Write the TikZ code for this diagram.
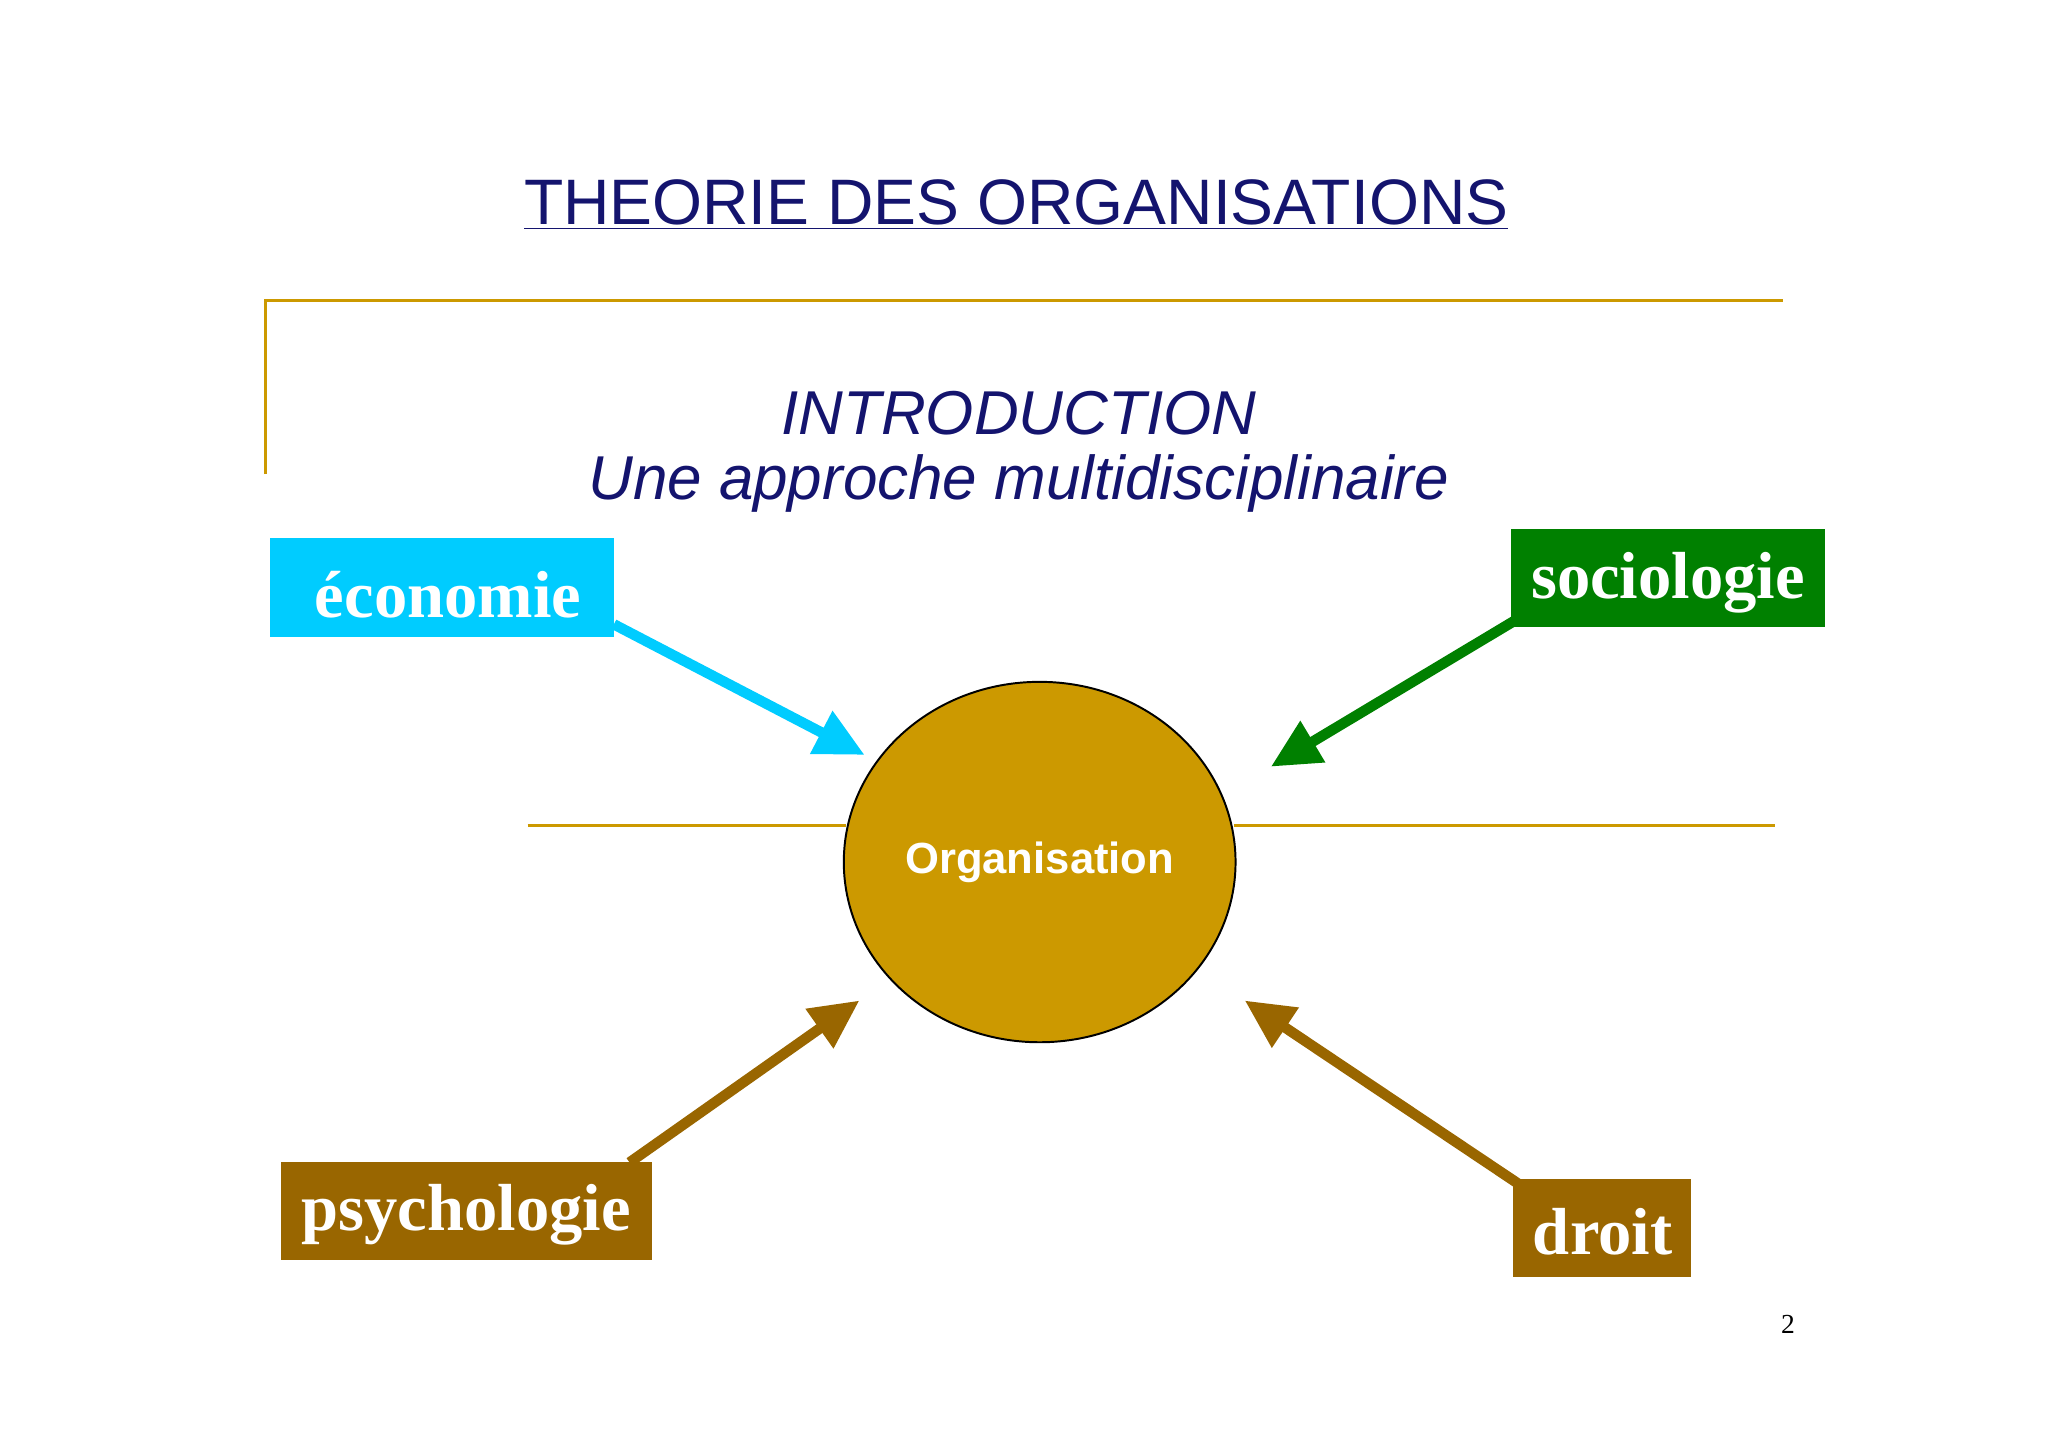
\documentclass[tikz,border=0pt]{standalone}
\usepackage{fontspec}
\setmainfont{Liberation Serif}
\setsansfont{Liberation Sans}
\usetikzlibrary{arrows.meta,shapes.geometric}
\definecolor{navy}{HTML}{14146E}
\definecolor{gold}{HTML}{CC9900}
\definecolor{cyanb}{HTML}{00CCFF}
\definecolor{greenb}{HTML}{008000}
\definecolor{brownb}{HTML}{996600}
\tikzset{
 lbl/.style={inner sep=0pt, text=white, font=\fontsize{29}{32}\selectfont\bfseries},
 arr/.style={line width=0.16cm, -{Triangle[length=0.75cm,width=0.7cm]}},
 gline/.style={draw=gold, line width=0.05cm},
}
\begin{document}
\begin{tikzpicture}[x=0.02cm,y=-0.02cm]
\useasboundingbox (0,0) rectangle (1568,1108);
\node[text=navy, font=\sffamily\fontsize{28}{32}\selectfont] (title) at (778,157) {\underline{THEORIE DES ORGANISATIONS}};
\draw[gline] (203,363) -- (203,230) -- (1365,230);
\node[text=navy, font=\sffamily\itshape\fontsize{27}{32}\selectfont] (intro) at (780,316) {INTRODUCTION};
\node[text=navy, font=\sffamily\itshape\fontsize{27}{32}\selectfont] (sub) at (780,370) {Une approche multidisciplinaire};
\draw[gline] (404,632) coordinate (l1) -- (648,632) coordinate (l2);
\draw[gline] (945,632) coordinate (r1) -- (1359,632) coordinate (r2);
\node[draw=black, line width=0.03cm, fill=gold, ellipse, minimum width=6cm, minimum height=5.52cm, inner sep=0pt] (org) at (796,660) {};
\node[text=white, font=\sffamily\bfseries\fontsize{19}{22}\selectfont] at (org.center) {Organisation};
\fill[cyanb] (207,412) rectangle (470,488);
\node[lbl] (eco) at (343,455) {économie};
\fill[greenb] (1157,405) rectangle (1397,480);
\node[lbl] (soc) at (1277,446) {sociologie};
\fill[brownb] (215,890) rectangle (499,965);
\node[lbl] (psy) at (357,930) {psychologie};
\fill[brownb] (1158,903) rectangle (1295,978);
\node[lbl] (dro) at (1227,943) {droit};
\coordinate (e1) at (470,478); \coordinate (e2) at (662,578);
\coordinate (s1) at (1160,475); \coordinate (s2) at (973,587);
\coordinate (p1) at (482,890); \coordinate (p2) at (658,766);
\coordinate (d1) at (1162,906); \coordinate (d2) at (953,766);
\draw[arr, cyanb] (e1) -- (e2);
\draw[arr, greenb] (s1) -- (s2);
\draw[arr, brownb] (p1) -- (p2);
\draw[arr, brownb] (d1) -- (d2);
\node[font=\fontsize{12}{14}\selectfont] (pg) at (1369,1014) {2};
\end{tikzpicture}
\end{document}
